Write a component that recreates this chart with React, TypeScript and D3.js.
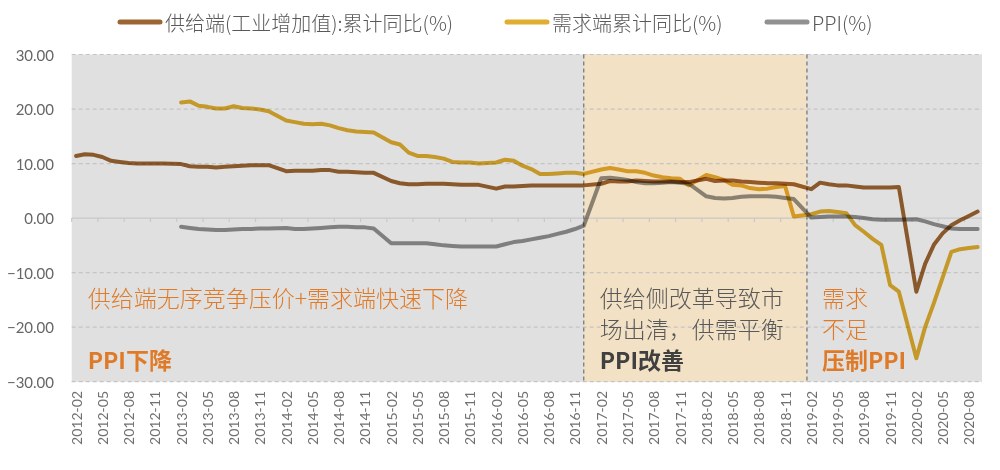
import React from "react";
import * as d3 from "d3";

const W = 1000;
const H = 470;
const plot = { left: 71.7, right: 982, top: 54.5, bottom: 381.7 };

// monthly categories 2012-02 … 2020-09
const months = d3
  .timeMonth.range(new Date(2012, 1, 1), new Date(2020, 9, 1))
  .map(d3.timeFormat("%Y-%m"));

// 供给端：工业增加值累计同比，1月不单独发布
const supply: (number | null)[] = [
  /* 2012 */ 11.4, 11.7, 11.6, 11.2, 10.5, 10.3, 10.1, 10.0, 10.0, 10.0, 10.0,
  /* 2013 */ null, 9.9, 9.5, 9.4, 9.4, 9.3, 9.4, 9.5, 9.6, 9.7, 9.7, 9.7,
  /* 2014 */ null, 8.6, 8.7, 8.7, 8.7, 8.8, 8.8, 8.5, 8.5, 8.4, 8.3, 8.3,
  /* 2015 */ null, 6.8, 6.4, 6.2, 6.2, 6.3, 6.3, 6.3, 6.2, 6.1, 6.1, 6.1,
  /* 2016 */ null, 5.4, 5.8, 5.8, 5.9, 6.0, 6.0, 6.0, 6.0, 6.0, 6.0, 6.0,
  /* 2017 */ null, 6.3, 6.8, 6.7, 6.7, 6.9, 6.8, 6.7, 6.7, 6.7, 6.6, 6.6,
  /* 2018 */ null, 7.2, 6.8, 6.9, 6.9, 6.7, 6.6, 6.5, 6.4, 6.4, 6.3, 6.2,
  /* 2019 */ null, 5.3, 6.5, 6.2, 6.0, 6.0, 5.8, 5.6, 5.6, 5.6, 5.6, 5.7,
  /* 2020 */ null, -13.5, -8.4, -4.9, -2.8, -1.3, -0.4, 0.4, 1.2,
];

// 需求端累计同比
const demand: (number | null)[] = [
  /* 2012 */ null, null, null, null, null, null, null, null, null, null, null,
  /* 2013 */ null, 21.2, 21.4, 20.6, 20.4, 20.1, 20.1, 20.5, 20.2, 20.1, 19.9, 19.6,
  /* 2014 */ null, 17.9, 17.6, 17.3, 17.2, 17.3, 17.0, 16.5, 16.1, 15.9, 15.8, 15.7,
  /* 2015 */ null, 13.9, 13.5, 12.0, 11.4, 11.4, 11.2, 10.9, 10.3, 10.2, 10.2, 10.0,
  /* 2016 */ null, 10.2, 10.7, 10.5, 9.6, 9.0, 8.1, 8.1, 8.2, 8.3, 8.3, 8.1,
  /* 2017 */ null, 8.9, 9.2, 8.9, 8.6, 8.6, 8.3, 7.8, 7.5, 7.3, 7.2, 6.0,
  /* 2018 */ null, 7.9, 7.5, 7.0, 6.1, 6.0, 5.5, 5.3, 5.4, 5.7, 5.9, 0.3,
  /* 2019 */ null, 0.7, 1.2, 1.3, 1.1, 0.9, -1.3, -2.5, -3.8, -4.9, -12.3, -13.5,
  /* 2020 */ null, -25.7, -20.0, -15.6, -10.9, -6.2, -5.7, -5.5, -5.3,
];

// PPI 累计同比
const ppi: (number | null)[] = [
  /* 2012 */ null, null, null, null, null, null, null, null, null, null, null,
  /* 2013 */ null, -1.6, -1.8, -2.0, -2.1, -2.2, -2.2, -2.1, -2.0, -2.0, -1.9, -1.9,
  /* 2014 */ null, -1.8, -2.0, -2.0, -1.9, -1.8, -1.7, -1.6, -1.6, -1.7, -1.7, -1.9,
  /* 2015 */ null, -4.6, -4.6, -4.6, -4.6, -4.6, -4.8, -5.0, -5.1, -5.2, -5.2, -5.2,
  /* 2016 */ null, -5.2, -4.8, -4.4, -4.2, -3.9, -3.6, -3.3, -2.9, -2.5, -2.0, -1.4,
  /* 2017 */ null, 7.3, 7.4, 7.2, 7.0, 6.6, 6.4, 6.4, 6.5, 6.6, 6.5, 6.3,
  /* 2018 */ null, 4.0, 3.7, 3.6, 3.7, 3.9, 4.0, 4.0, 4.0, 3.9, 3.7, 3.5,
  /* 2019 */ null, 0.1, 0.2, 0.3, 0.3, 0.3, 0.2, 0.0, -0.2, -0.3, -0.3, -0.3,
  /* 2020 */ null, -0.2, -0.6, -1.1, -1.5, -1.9, -2.0, -2.0, -2.0,
];

const seriesNames = ["供给端(工业增加值):累计同比(%)", "需求端累计同比(%)", "PPI(%)"];
const seriesColors = ["#9c6532", "#e0ae30", "#919191"];
const yTicks = [30, 20, 10, 0, -10, -20, -30];

// 供给侧改革阶段
const reformStart = "2016-12";
const reformEnd = "2019-02";

const leftNote = ["供给端无序竞争压价+需求端快速下降"];
const leftHead = "PPI下降";
const midNote = ["供给侧改革导致市", "场出清，供需平衡"];
const midHead = "PPI改善";
const rightNote = ["需求", "不足"];
const rightHead = "压制PPI";

const cjk = "'Noto Sans CJK SC', 'Noto Sans', sans-serif";
const num = "Lato, 'Noto Sans', sans-serif";

export default function App() {
  const x = d3.scaleBand<string>().domain(months).range([plot.left, plot.right]);
  const bw = x.bandwidth();
  const cx = (m: string) => (x(m) as number) + bw / 2;
  const y = d3.scaleLinear().domain([-30, 30]).range([plot.bottom, plot.top]);

  const line = d3
    .line<{ m: string; v: number }>()
    .x((d) => cx(d.m))
    .y((d) => y(d.v));

  const toPts = (vals: (number | null)[]) =>
    months
      .map((m, i) => ({ m, v: vals[i] }))
      .filter((d) => d.v !== null && d.v !== undefined) as { m: string; v: number }[];

  const series = [supply, demand, ppi];
  const tickMonths = months.filter((_, i) => i % 3 === 0);

  const x0 = cx(reformStart);
  const x1 = x(reformEnd) as number;
  const noteRows = [297, 328, 359];
  const orange = "#df7b28";

  const legendX = [118, 505, 765];

  return (
    <svg
      width={W}
      height={H}
      style={{ position: "absolute", left: 0, top: 0, background: "#fff" }}
    >
      {/* legend */}
      {seriesNames.map((name, i) => (
        <g key={name} transform={`translate(${legendX[i]},22)`}>
          <line x1={2} x2={42} y1={0} y2={0} stroke={seriesColors[i]} strokeWidth={5} strokeLinecap="round" />
          <text x={47} y={0} dominantBaseline="central" fontFamily={cjk} fontSize={20} fontWeight={300} fill="#595959">
            {name}
          </text>
        </g>
      ))}

      {/* backgrounds */}
      <rect x={plot.left} y={plot.top} width={plot.right - plot.left} height={plot.bottom - plot.top} fill="#e0e0e0" />
      <rect x={x0} y={plot.top} width={x1 - x0} height={plot.bottom - plot.top} fill="#f2e1c4" />

      {/* grid */}
      {yTicks.filter((t) => t !== 0).map((t) => (
        <line key={t} x1={plot.left} x2={plot.right} y1={y(t)} y2={y(t)} stroke="#c4c4c4" strokeWidth={1.2} strokeDasharray="4,3" />
      ))}
      <line x1={plot.left} x2={plot.right} y1={y(0)} y2={y(0)} stroke="#c8c8c8" strokeWidth={1.2} />
      {tickMonths.map((m) => (
        <line key={m} x1={x(m)} x2={x(m)} y1={y(0)} y2={y(0) + 4} stroke="#c8c8c8" strokeWidth={1.2} />
      ))}

      {/* phase boundaries */}
      {[x0, x1].map((px) => (
        <line key={px} x1={px} x2={px} y1={plot.top} y2={plot.bottom} stroke="#7a7a7a" strokeWidth={1.3} strokeDasharray="4,3" />
      ))}

      {/* y axis labels */}
      {yTicks.map((t) => (
        <text key={t} x={54} y={y(t)} textAnchor="end" dominantBaseline="central" fontFamily={num} fontSize={15} fill="#666">
          {d3.format(".2f")(t)}
        </text>
      ))}

      {/* x axis labels */}
      {tickMonths.map((m) => (
        <text
          key={m}
          transform={`translate(${cx(m)},391) rotate(-90)`}
          textAnchor="end"
          dominantBaseline="central"
          fontFamily={num}
          fontSize={14}
          fill="#707070"
        >
          {m}
        </text>
      ))}

      {/* series */}
      {series.map((vals, i) => (
        <path
          key={i}
          d={line(toPts(vals)) || ""}
          fill="none"
          stroke={seriesColors[i]}
          strokeWidth={4}
          strokeLinejoin="round"
          strokeLinecap="round"
          style={{ mixBlendMode: "multiply" }}
        />
      ))}

      {/* annotations */}
      <g fontFamily={cjk} fontSize={23} dominantBaseline="central">
        {leftNote.map((s, i) => (
          <text key={s} x={plot.left + 16} y={noteRows[i]} fill={orange} fontWeight={300}>{s}</text>
        ))}
        <text x={plot.left + 16} y={noteRows[2]} fill={orange} fontWeight={700}>{leftHead}</text>

        {midNote.map((s, i) => (
          <text key={s} x={x0 + 16} y={noteRows[i]} fill="#595959" fontWeight={300}>{s}</text>
        ))}
        <text x={x0 + 16} y={noteRows[2]} fill="#404040" fontWeight={700}>{midHead}</text>

        {rightNote.map((s, i) => (
          <text key={s} x={x1 + 15} y={noteRows[i]} fill={orange} fontWeight={300}>{s}</text>
        ))}
        <text x={x1 + 15} y={noteRows[2]} fill={orange} fontWeight={700}>{rightHead}</text>
      </g>
    </svg>
  );
}
